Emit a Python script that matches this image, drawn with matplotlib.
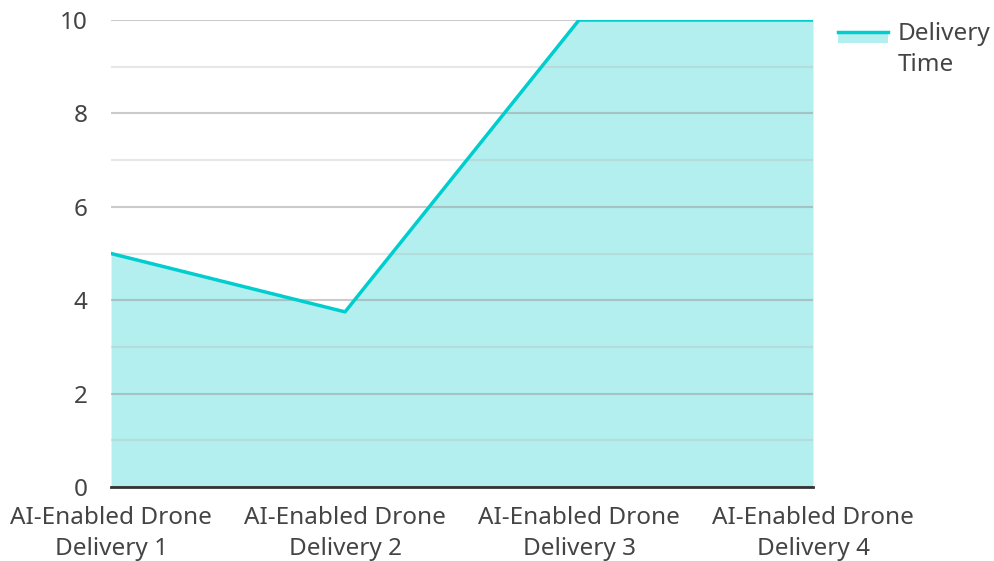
import numpy as np
import matplotlib
matplotlib.use("Agg")
import matplotlib.pyplot as plt
from matplotlib.patches import Rectangle
from matplotlib.lines import Line2D

CATEGORIES = ["AI-Enabled Drone\nDelivery 1", "AI-Enabled Drone\nDelivery 2",
              "AI-Enabled Drone\nDelivery 3", "AI-Enabled Drone\nDelivery 4"]
DELIVERY_TIME = [5, 3.75, 10, 10]
Y_TICKS = [0, 2, 4, 6, 8, 10]

LINE_COLOR = "#00CDCD"
FILL_COLOR = "#B2EFEE"
FS = 17.5
HANDLE_SHIFT = 11  # points, lifts the legend swatch up to the first text line

plt.rcParams["font.family"] = ["Noto Sans", "DejaVu Sans"]

fig = plt.figure(figsize=(9.95, 5.61), dpi=100)
ax = fig.add_axes([0.1116, 0.1319, 0.7055, 0.8324])

x = np.arange(len(CATEGORIES))
ax.fill_between(x, 0, DELIVERY_TIME, color=FILL_COLOR, zorder=1, linewidth=0)
ax.plot(x, DELIVERY_TIME, color=LINE_COLOR, linewidth=2.5, zorder=4)

ax.set_xlim(x[0], x[-1])
ax.set_ylim(0, 10)
ax.set_yticks(Y_TICKS)
ax.set_yticks(np.arange(1, 10, 2), minor=True)
ax.set_xticks(x)
ax.set_xticklabels(CATEGORIES, linespacing=1.42)

ax.grid(axis="y", which="major", color="#999999", alpha=0.5, linewidth=1.5, zorder=2)
ax.grid(axis="y", which="minor", color="#bbbbbb", alpha=0.35, linewidth=1.5, zorder=2)
ax.set_axisbelow(False)

ax.tick_params(axis="both", which="both", length=0, labelsize=FS, colors="#444444")
ax.tick_params(axis="y", pad=17)
ax.tick_params(axis="x", pad=13.5)
for s in ("top", "right", "left"):
    ax.spines[s].set_visible(False)
ax.spines["bottom"].set_color("#333333")
ax.spines["bottom"].set_linewidth(2)
ax.spines["bottom"].set_zorder(5)


class AreaHandler:
    def legend_artist(self, legend, orig_handle, fontsize, handlebox):
        x0, y0 = handlebox.xdescent, handlebox.ydescent
        w, h = handlebox.width, handlebox.height
        tr = handlebox.get_transform()
        top = y0 + h * 0.65 + HANDLE_SHIFT
        rect = Rectangle((x0, top - 8), w, 8, facecolor=FILL_COLOR,
                         edgecolor="none", transform=tr)
        ln = Line2D([x0, x0 + w], [top, top], color=LINE_COLOR,
                    linewidth=2.5, transform=tr)
        handlebox.add_artist(rect)
        handlebox.add_artist(ln)
        return rect


leg = ax.legend([object()], ["Delivery\nTime"], handler_map={object: AreaHandler()},
                loc="upper left", bbox_to_anchor=(1.0356, 0.996), frameon=False,
                fontsize=FS, handlelength=2.05, handletextpad=0.4,
                borderaxespad=0, borderpad=0)
for t in leg.get_texts():
    t.set_color("#444444")
    t.set_linespacing(1.42)

fig.savefig("out.png", dpi=100)
